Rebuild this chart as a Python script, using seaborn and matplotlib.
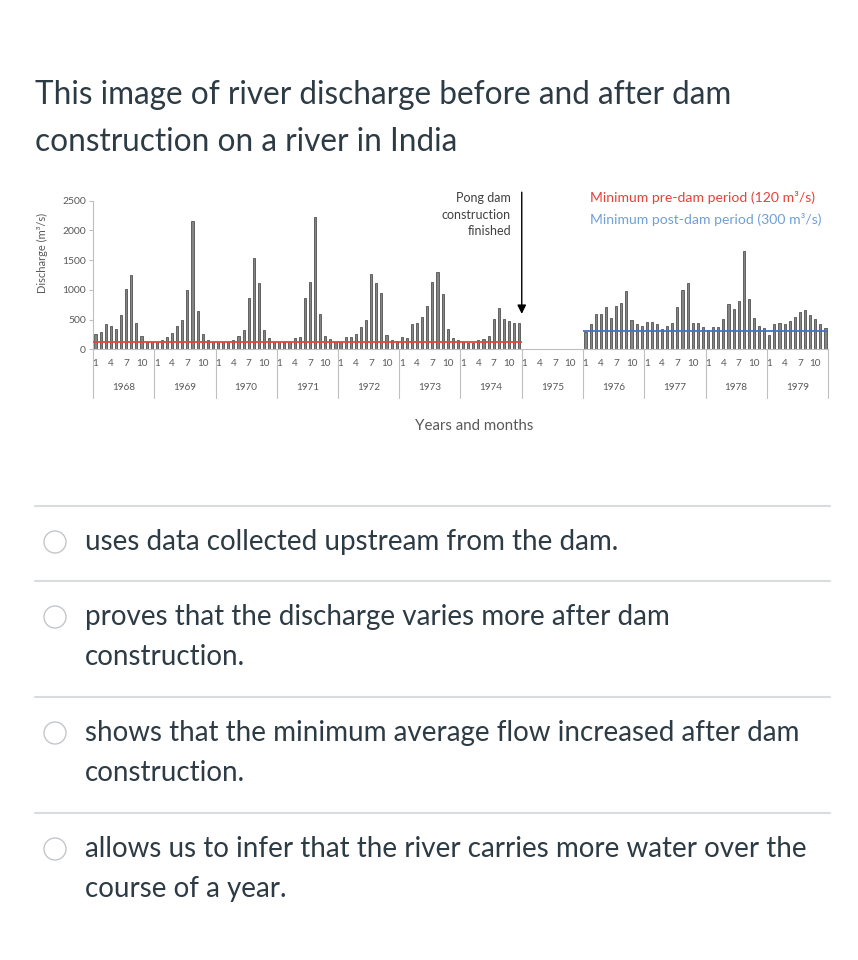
import numpy as np
import pandas as pd
import matplotlib
matplotlib.use('Agg')
import matplotlib.pyplot as plt
import matplotlib.transforms as mtransforms
from matplotlib.patches import Circle
import seaborn as sns

years = list(range(1968, 1980))
months = list(range(1, 13))

# monthly discharge (m3/s); 1975 has no data
discharge = {
    1968: [250, 297, 420, 392, 345, 577, 1015, 1244, 450, 222, 125, 125],
    1969: [125, 155, 205, 280, 392, 485, 1005, 2165, 639, 252, 157, 115],
    1970: [115, 118, 122, 157, 224, 328, 858, 1528, 1121, 325, 190, 118],
    1971: [115, 115, 130, 185, 213, 858, 1138, 2220, 594, 224, 174, 115],
    1972: [115, 205, 205, 252, 380, 485, 1261, 1121, 953, 235, 157, 140],
    1973: [207, 190, 420, 448, 549, 729, 1138, 1306, 936, 336, 185, 157],
    1974: [115, 105, 105, 160, 170, 224, 510, 700, 515, 475, 440, 435],
    1975: [np.nan] * 12,
    1976: [290, 420, 592, 592, 717, 532, 730, 773, 985, 493, 428, 400],
    1977: [465, 465, 426, 336, 398, 437, 717, 998, 1115, 448, 448, 372],
    1978: [320, 370, 370, 505, 760, 685, 805, 1660, 840, 520, 400, 365],
    1979: [240, 420, 450, 420, 480, 550, 635, 665, 580, 510, 420, 355],
}
month_labels = [1, 4, 7, 10]
min_pre, pre_years = 120, (1968, 1974)
min_post, post_years = 300, (1976, 1979)
dam_done = 1974

title_lines = ['This image of river discharge before and after dam',
               'construction on a river in India']
options = [
    ['uses data collected upstream from the dam.'],
    ['proves that the discharge varies more after dam', 'construction.'],
    ['shows that the minimum average flow increased after dam', 'construction.'],
    ['allows us to infer that the river carries more water over the', 'course of a year.'],
]

rows = []
for i, yr in enumerate(years):
    for m, v in zip(months, discharge[yr]):
        rows.append((i * 12 + m - 1, yr, m, v))
df = pd.DataFrame(rows, columns=['pos', 'year', 'month', 'discharge']).dropna()

sns.set_style('white')
plt.rcParams['font.family'] = ['Lato', 'DejaVu Sans']

W, H = 858, 960
fig = plt.figure(figsize=(W / 100, H / 100), dpi=100)

bg = fig.add_axes([0, 0, 1, 1], zorder=0)
bg.set_xlim(0, W)
bg.set_ylim(H, 0)
bg.axis('off')

ax_l, ax_r, ax_t, ax_b = 93, 828, 200.7, 349.3
ax = fig.add_axes([ax_l / W, 1 - ax_b / H, (ax_r - ax_l) / W, (ax_b - ax_t) / H], zorder=1)
ax.set_facecolor('none')

sns.barplot(data=df, x='pos', y='discharge', native_scale=True, width=0.42,
            color='#858585', saturation=1, edgecolor='#3a3a3a', linewidth=0.5,
            errorbar=None, ax=ax)

yi = {y: i for i, y in enumerate(years)}
ax.hlines(min_pre, yi[pre_years[0]] * 12 - 0.5, yi[pre_years[1]] * 12 + 11.5,
          color='#e8413c', lw=1.3, zorder=3)
ax.hlines(min_post, yi[post_years[0]] * 12 - 0.5, yi[post_years[1]] * 12 + 11.5,
          color='#4472c4', lw=1.3, zorder=3)

ax.set_xlim(-0.5, len(years) * 12 - 0.5)
ax.set_ylim(0, 2500)
ax.set_yticks(range(0, 2501, 500))
ax.set_xticks([])
ax.set_xlabel('')
ax.set_ylabel('')
ax.tick_params(axis='y', labelsize=7.5, labelcolor='#595959', color='#bfbfbf',
               length=3, width=0.8, left=True, pad=2)
for s in ['top', 'right']:
    ax.spines[s].set_visible(False)
for s in ['left', 'bottom']:
    ax.spines[s].set_color('#bfbfbf')
    ax.spines[s].set_linewidth(0.8)

# two-level category axis
trans = mtransforms.blended_transform_factory(ax.transData, ax.transAxes)
hpx = ax_b - ax_t
for i, yr in enumerate(years):
    for m in month_labels:
        ax.text(i * 12 + m - 1, -(364 - ax_b) / hpx, str(m), transform=trans,
                ha='center', va='center', fontsize=7.2, color='#595959')
    ax.text(i * 12 + 5.5, -(388 - ax_b) / hpx, str(yr), transform=trans,
            ha='center', va='center', fontsize=7.2, color='#595959')
for i in range(len(years) + 1):
    ax.plot([i * 12 - 0.5] * 2, [0, -(398 - ax_b) / hpx], transform=trans,
            color='#bfbfbf', lw=0.8, clip_on=False)

# dam arrow
xa = yi[dam_done] * 12 + 11.5
ax.annotate('', xy=(xa, 549), xytext=(xa, 2690),
            arrowprops=dict(arrowstyle='-|>', color='black', lw=1, mutation_scale=13),
            annotation_clip=False)
for txt, yy in zip(['Pong dam', 'construction', 'finished'], [198, 215, 231]):
    bg.text(511, yy, txt, ha='right', va='center', fontsize=9, color='#404040')

bg.text(590, 198, 'Minimum pre-dam period (120 m³/s)', ha='left', va='center',
        fontsize=10.1, color='#e8413c')
bg.text(590, 219, 'Minimum post-dam period (300 m³/s)', ha='left', va='center',
        fontsize=10.1, color='#6fa0d8')
bg.text(42, 253, 'Discharge (m³/s)', rotation=90, ha='center', va='center',
        fontsize=8, color='#595959')
bg.text(474, 426, 'Years and months', ha='center', va='center',
        fontsize=10.8, color='#595959')

# question text
for txt, yy in zip(title_lines, [95, 142]):
    bg.text(35, yy, txt, ha='left', va='center', fontsize=22.7, color='#2d3b45')

for yy in [506, 581, 697, 813]:
    bg.plot([35, 830], [yy, yy], color='#d9dcde', lw=1.5)

for lines, yy in zip(options, [542, 617, 733, 849]):
    bg.add_patch(Circle((55, yy), 11, fill=True, facecolor='white',
                        edgecolor='#c3c7ca', lw=1))
    for k, txt in enumerate(lines):
        bg.text(85, yy + 40 * k, txt, ha='left', va='center', fontsize=20, color='#2d3b45')

fig.savefig('out.png', dpi=100)
